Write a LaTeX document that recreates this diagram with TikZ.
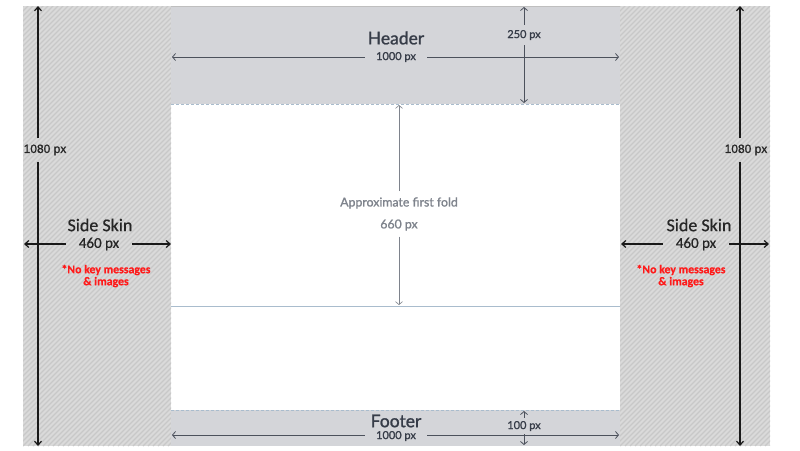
\documentclass[tikz,border=0pt]{standalone}
\usepackage{fontspec}
\setmainfont{Lato}
\newfontfamily\medfont[FakeBold=1.2]{Lato}
\newfontfamily\calib[FakeBold=0.6]{Carlito}
\newfontfamily\arialf[FakeBold=1]{Liberation Sans}
\usetikzlibrary{arrows.meta}
\definecolor{panelgray}{HTML}{D4D5D9}
\definecolor{hatchbg}{HTML}{DADADA}
\definecolor{hatchln}{HTML}{C8C8C8}
\definecolor{txtdark}{HTML}{363C48}
\definecolor{arrdark}{HTML}{4C515C}
\definecolor{txtmid}{HTML}{7E838C}
\definecolor{foldblue}{HTML}{A9BCCD}
\definecolor{skinred}{HTML}{FF1A1A}
\tikzset{
  hdrtext/.style={font=\medfont\fontsize{17.5}{19}\selectfont, text=txtdark, inner sep=0pt},
  dimtext/.style={font=\medfont\fontsize{11}{13}\selectfont, text=txtdark, inner xsep=11pt, inner ysep=4pt},
  midtext/.style={font=\medfont\fontsize{12.3}{14}\selectfont, text=txtmid, inner xsep=4pt, inner ysep=6pt},
  skintext/.style={font=\calib\fontsize{18}{20}\selectfont, text=black!85, inner sep=0pt},
  skindim/.style={font=\calib\fontsize{15}{17}\selectfont, text=black!85, inner xsep=13pt, inner ysep=2pt},
  redtext/.style={font=\calib\bfseries\fontsize{11.8}{13}\selectfont, text=skinred, align=center, inner sep=0pt},
  tall/.style={font=\arialf\fontsize{12}{14}\selectfont, text=black!85, inner xsep=1pt, inner ysep=6pt},
  barrow/.style={black!90, line width=1.4pt, -{Straight Barb[length=4pt,width=7pt,line width=1.2pt]}},
  garrow/.style={arrdark, line width=0.9pt, -{Straight Barb[length=3pt,width=7pt,line width=0.8pt]}},
  marrow/.style={txtmid, line width=0.6pt, -{Straight Barb[length=3pt,width=7pt,line width=0.6pt]}},
  dashline/.style={foldblue, line width=0.7pt, dash pattern=on 3pt off 2pt},
  foldline/.style={foldblue, line width=0.9pt},
}
\begin{document}
\begin{tikzpicture}[x=1pt,y=-1pt]
\useasboundingbox (0,0) rectangle (800,450);
\fill[white] (0,0) rectangle (800,450);
% hatched side panels
\foreach \xa/\xb in {23/171, 620/770}{
  \begin{scope}
    \clip (\xa,6) rectangle (\xb,446);
    \fill[hatchbg] (\xa,6) rectangle (\xb,446);
    \foreach \k in {-460,-455,...,160}
      \draw[hatchln, line width=1.3pt] (\xa+\k,446) -- ++(460,-460);
  \end{scope}
}
% header & footer
\fill[panelgray] (171,6) rectangle (620,104);
\fill[panelgray] (171,410) rectangle (620,446);
\draw[black!25, line width=0.5pt] (171,6) -- (620,6);
\draw[dashline] (171,104) -- (620,104);
\draw[dashline] (171,410) -- (620,410);
\draw[foldline] (171,306) -- (620,306);

% header
\node[hdrtext] (header) at (396,38) {Header};
\node[dimtext] (hw) at (396,57) {1000 px};
\coordinate (hL) at (172,57);
\coordinate (hR) at (619,57);
\draw[garrow] (hw.west) -- (hL);
\draw[garrow] (hw.east) -- (hR);
\node[dimtext, inner ysep=5pt] (hh) at (524,35) {250 px};
\coordinate (hT) at (524,7);
\coordinate (hB) at (524,103);
\draw[garrow] (hh.north) -- (hT);
\draw[garrow] (hh.south) -- (hB);

% center fold
\node[midtext] (fold) at (399,203) {Approximate first fold};
\node[midtext] (fh) at (399,225) {660 px};
\coordinate (fT) at (399,105);
\coordinate (fB) at (399,305);
\draw[marrow] (fold.north) -- (fT);
\draw[marrow] (fh.south) -- (fB);

% footer
\node[hdrtext] (footer) at (396,421) {Footer};
\node[dimtext, inner ysep=2pt] (fw) at (396,436) {1000 px};
\coordinate (fL) at (172,435);
\coordinate (fR) at (619,435);
\draw[garrow] (fw.west |- fL) -- (fL);
\draw[garrow] (fw.east |- fR) -- (fR);
\node[dimtext, inner ysep=3pt] (ffh) at (524,426) {100 px};
\coordinate (ffT) at (524,411);
\coordinate (ffB) at (524,445);
\draw[garrow] (ffh.north -| ffT) -- (ffT);
\draw[garrow] (ffh.south -| ffB) -- (ffB);

% left side skin
\coordinate (lT) at (38,6);
\coordinate (lB) at (38,446);
\node[tall] (lh) at (45,150) {1080 px};
\draw[barrow] (lh.north -| lT) -- (lT);
\draw[barrow] (lh.south -| lB) -- (lB);
\node[skintext] (lskin) at (100,225) {Side Skin};
\node[skindim] (lw) at (99,244) {460 px};
\coordinate (lL) at (24,244);
\coordinate (lR) at (171,244);
\draw[barrow, line width=1.1pt] (lw.west) -- (lL);
\draw[barrow, line width=1.1pt] (lw.east) -- (lR);
\node[redtext] (lred) at (106,276) {*No key messages\\[-1pt]\& images};

% right side skin
\coordinate (rT) at (740,6);
\coordinate (rB) at (740,446);
\node[tall] (rh) at (746,150) {1080 px};
\draw[barrow] (rh.north -| rT) -- (rT);
\draw[barrow] (rh.south -| rB) -- (rB);
\node[skintext] (rskin) at (699,225) {Side Skin};
\node[skindim] (rw) at (696,244) {460 px};
\coordinate (rL) at (621,244);
\coordinate (rR) at (769,244);
\draw[barrow, line width=1.1pt] (rw.west) -- (rL);
\draw[barrow, line width=1.1pt] (rw.east) -- (rR);
\node[redtext] (rred) at (681,276) {*No key messages\\[-1pt]\& images};
\end{tikzpicture}
\end{document}
